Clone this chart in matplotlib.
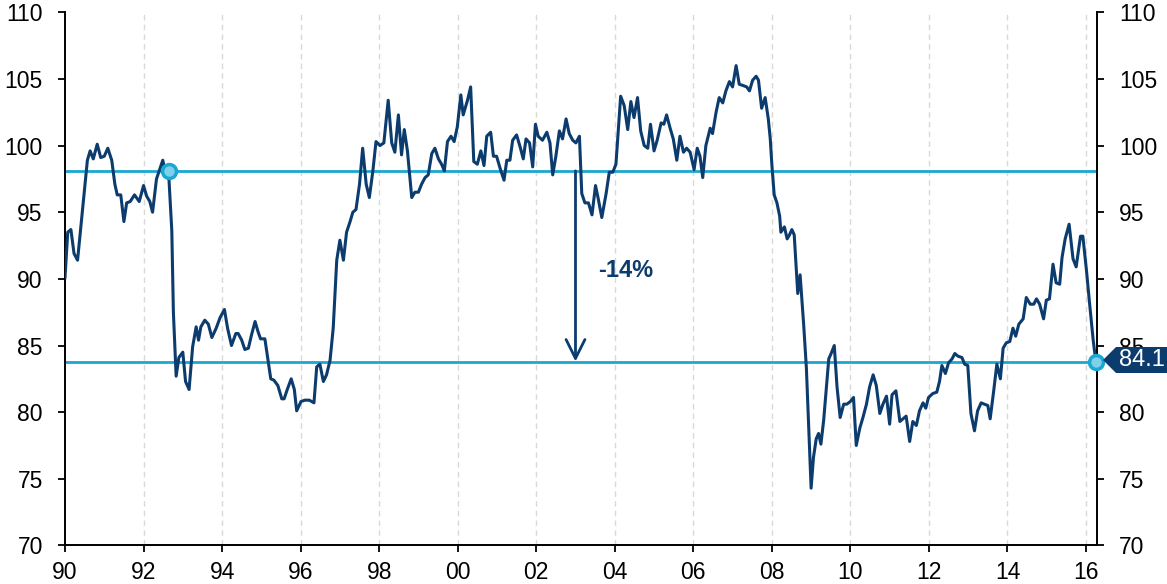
import matplotlib
matplotlib.use("Agg")
import matplotlib.pyplot as plt
from matplotlib.patches import Polygon

plt.rcParams['font.family'] = ['Liberation Sans', 'DejaVu Sans']

# index values (decimal year, level)
years = [1990.0, 1990.07, 1990.15, 1990.23, 1990.32, 1990.42, 1990.57, 1990.64, 1990.72, 1990.82,
         1990.91, 1991.0, 1991.09, 1991.19, 1991.27, 1991.33, 1991.42, 1991.5, 1991.57, 1991.66,
         1991.77, 1991.89, 1992.0, 1992.08, 1992.16, 1992.23, 1992.33, 1992.49, 1992.55, 1992.63,
         1992.72, 1992.76, 1992.83, 1992.9, 1993.0, 1993.07, 1993.16, 1993.25, 1993.34, 1993.4,
         1993.46, 1993.56, 1993.65, 1993.74, 1993.85, 1993.95, 1994.06, 1994.14, 1994.24, 1994.35,
         1994.41, 1994.5, 1994.58, 1994.67, 1994.75, 1994.84, 1994.92, 1994.98, 1995.09, 1995.16,
         1995.24, 1995.32, 1995.42, 1995.52, 1995.58, 1995.66, 1995.76, 1995.84, 1995.9, 1996.01,
         1996.11, 1996.22, 1996.34, 1996.41, 1996.49, 1996.58, 1996.66, 1996.75, 1996.83, 1996.92,
         1997.0, 1997.09, 1997.17, 1997.26, 1997.33, 1997.41, 1997.5, 1997.58, 1997.67, 1997.75,
         1997.84, 1997.92, 1998.02, 1998.12, 1998.23, 1998.32, 1998.4, 1998.49, 1998.57, 1998.64,
         1998.72, 1998.83, 1998.91, 1999.0, 1999.08, 1999.17, 1999.25, 1999.34, 1999.42, 1999.51,
         1999.59, 1999.66, 1999.74, 1999.83, 1999.91, 1999.99, 2000.08, 2000.14, 2000.25, 2000.33,
         2000.41, 2000.5, 2000.59, 2000.67, 2000.74, 2000.84, 2000.91, 2000.99, 2001.09, 2001.18,
         2001.25, 2001.33, 2001.4, 2001.5, 2001.59, 2001.67, 2001.74, 2001.83, 2001.91, 2001.98,
         2002.05, 2002.16, 2002.27, 2002.35, 2002.42, 2002.5, 2002.59, 2002.67, 2002.76, 2002.84,
         2002.93, 2003.01, 2003.1, 2003.16, 2003.24, 2003.33, 2003.42, 2003.51, 2003.58, 2003.67,
         2003.78, 2003.86, 2003.95, 2004.03, 2004.15, 2004.24, 2004.33, 2004.41, 2004.49, 2004.58,
         2004.66, 2004.75, 2004.84, 2004.91, 2005.0, 2005.08, 2005.18, 2005.25, 2005.32, 2005.41,
         2005.49, 2005.58, 2005.66, 2005.75, 2005.83, 2005.92, 2006.02, 2006.1, 2006.17, 2006.24,
         2006.32, 2006.43, 2006.49, 2006.58, 2006.66, 2006.75, 2006.83, 2006.92, 2007.0, 2007.09,
         2007.17, 2007.27, 2007.36, 2007.43, 2007.51, 2007.6, 2007.66, 2007.74, 2007.83, 2007.91,
         2007.96, 2008.0, 2008.06, 2008.13, 2008.2, 2008.23, 2008.32, 2008.39, 2008.45, 2008.51,
         2008.57, 2008.66, 2008.72, 2008.81, 2008.88, 2008.94, 2009.0, 2009.06, 2009.13, 2009.19,
         2009.25, 2009.32, 2009.4, 2009.45, 2009.51, 2009.59, 2009.66, 2009.74, 2009.83, 2009.91,
         2010.0, 2010.08, 2010.15, 2010.24, 2010.32, 2010.41, 2010.49, 2010.58, 2010.66, 2010.75,
         2010.83, 2010.92, 2011.0, 2011.06, 2011.16, 2011.26, 2011.34, 2011.42, 2011.51, 2011.59,
         2011.68, 2011.76, 2011.85, 2011.92, 2011.99, 2012.1, 2012.2, 2012.27, 2012.33, 2012.42,
         2012.5, 2012.59, 2012.66, 2012.74, 2012.84, 2012.91, 2012.99, 2013.07, 2013.16, 2013.24,
         2013.33, 2013.41, 2013.5, 2013.56, 2013.65, 2013.73, 2013.82, 2013.89, 2013.97, 2014.06,
         2014.14, 2014.21, 2014.29, 2014.4, 2014.48, 2014.58, 2014.67, 2014.74, 2014.82, 2014.92,
         2014.99, 2015.07, 2015.16, 2015.24, 2015.33, 2015.39, 2015.47, 2015.57, 2015.67, 2015.75,
         2015.86, 2015.92, 2016.01, 2016.09, 2016.18, 2016.25]
values = [90.1, 93.5, 93.7, 91.9, 91.4, 94.4, 98.9, 99.6, 99.0, 100.1,
          99.1, 99.2, 99.8, 98.9, 97.1, 96.3, 96.3, 94.3, 95.7, 95.8,
          96.3, 95.8, 97.0, 96.2, 95.8, 95.0, 97.5, 98.9, 98.1, 98.4,
          93.6, 87.5, 82.7, 84.1, 84.5, 82.3, 81.7, 84.9, 86.4, 85.4,
          86.4, 86.9, 86.6, 85.6, 86.3, 87.1, 87.7, 86.3, 85.0, 85.9,
          85.9, 85.4, 84.7, 84.8, 85.8, 86.8, 86.0, 85.5, 85.5, 84.1,
          82.5, 82.4, 82.0, 81.0, 81.0, 81.7, 82.5, 81.7, 80.1, 80.8,
          80.9, 80.9, 80.7, 83.4, 83.6, 82.3, 82.8, 83.9, 86.3, 91.4,
          92.9, 91.4, 93.5, 94.3, 95.0, 95.2, 97.1, 99.8, 97.1, 96.1,
          98.1, 100.3, 100.0, 100.2, 103.4, 100.2, 99.5, 102.3, 99.3, 101.2,
          99.6, 96.1, 96.5, 96.5, 97.1, 97.6, 97.8, 99.4, 99.8, 99.0,
          98.6, 98.1, 100.3, 100.7, 100.3, 101.4, 103.8, 102.3, 103.4, 104.4,
          98.8, 98.6, 99.6, 98.5, 100.7, 101.0, 99.2, 99.2, 98.2, 97.4,
          98.9, 98.9, 100.4, 100.8, 99.9, 99.0, 100.5, 100.2, 98.4, 101.6,
          100.7, 100.4, 101.0, 100.2, 97.8, 99.2, 101.1, 100.5, 102.0, 100.9,
          100.4, 100.2, 100.7, 96.4, 95.7, 95.7, 94.8, 97.0, 96.0, 94.6,
          96.4, 98.0, 98.0, 98.6, 103.7, 103.0, 101.2, 103.3, 102.1, 103.6,
          101.1, 100.0, 99.8, 101.6, 99.6, 100.4, 101.7, 101.6, 102.3, 101.3,
          100.5, 98.9, 100.7, 99.5, 99.8, 99.5, 98.2, 99.8, 99.2, 97.6,
          100.0, 101.3, 100.9, 102.5, 103.6, 103.2, 104.1, 104.8, 104.4, 106.0,
          104.6, 104.5, 104.4, 104.1, 104.9, 105.2, 104.9, 102.8, 103.6, 102.0,
          100.5, 98.6, 96.3, 95.7, 94.7, 93.5, 93.9, 93.0, 93.3, 93.7,
          93.3, 88.9, 90.3, 86.6, 83.3, 78.8, 74.3, 76.6, 78.0, 78.4,
          77.6, 79.4, 82.2, 84.0, 84.4, 85.0, 81.9, 79.6, 80.6, 80.6,
          80.8, 81.1, 77.5, 78.8, 79.6, 80.6, 81.9, 82.8, 82.0, 79.9,
          80.6, 81.2, 79.1, 81.3, 81.6, 79.3, 79.5, 79.7, 77.8, 79.3,
          79.0, 80.1, 80.7, 80.3, 81.1, 81.4, 81.5, 82.3, 83.5, 82.9,
          83.7, 84.0, 84.4, 84.2, 84.1, 83.6, 83.5, 79.9, 78.6, 80.1,
          80.7, 80.6, 80.5, 79.5, 81.6, 83.6, 82.5, 84.8, 85.2, 85.3,
          86.3, 85.7, 86.6, 87.0, 88.6, 88.1, 88.1, 88.5, 88.1, 87.0,
          88.4, 88.5, 91.1, 89.7, 89.6, 91.6, 93.0, 94.1, 91.5, 90.9,
          93.2, 93.2, 90.7, 88.2, 85.5, 83.8]

high_level = 98.1
low_level = 83.8
peak_year = 1992.64
last_year = 2016.25
last_label = "84.1"
drop_label = "-14%"
drop_year = 2003.0

tick_years = list(range(1990, 2017, 2))
tick_labels = ["90", "92", "94", "96", "98", "00", "02", "04", "06", "08", "10", "12", "14", "16"]
y_ticks = [70, 75, 80, 85, 90, 95, 100, 105, 110]

navy = "#0c3c6e"
cyan = "#1aa7d2"

fig = plt.figure(figsize=(11.67, 5.84), dpi=100)
ax = fig.add_axes([0.0557, 0.066, 0.8843, 0.913])

for t in tick_years[1:]:
    ax.axvline(t, color="#d9d9d9", lw=1, ls=(0, (4, 3)), zorder=0)

ax.axhline(high_level, color=cyan, lw=2, zorder=2)
ax.axhline(low_level, color=cyan, lw=2, zorder=2)
ax.plot(years, values, color=navy, lw=2.2, zorder=3)

for xm, ym in [(peak_year, high_level), (last_year, low_level)]:
    ax.plot(xm, ym, "o", ms=10, mfc="#7fd0ea", mec=cyan, mew=2.5, zorder=5, clip_on=False)

ax.annotate("", xy=(drop_year, low_level), xytext=(drop_year, high_level),
            arrowprops=dict(arrowstyle="->,head_length=0.4,head_width=0.2", color=navy,
                            lw=2, mutation_scale=34, shrinkA=0, shrinkB=0), zorder=4)
ax.text(drop_year + 0.58, 90.6, drop_label, color=navy, fontsize=17, fontweight="bold",
        ha="left", va="center")

ax.set_xlim(1990, 2016.28)
ax.set_ylim(70, 110)
ax.set_xticks(tick_years)
ax.set_xticklabels(tick_labels)
ax.set_yticks(y_ticks)
ax.tick_params(axis="y", which="both", left=True, right=True, labelleft=True, labelright=True,
               direction="out", length=5, width=1.3, pad=11, labelsize=16.5)
ax.tick_params(axis="x", direction="out", length=5, width=1.3, pad=6, labelsize=16.5)
for side in ["left", "right", "bottom"]:
    ax.spines[side].set_linewidth(1.4)
ax.spines["top"].set_visible(False)

# value tag on the right edge
W, H = 1167.0, 584.0
ymid = 584 - 360
pts = [(1103, ymid), (1116, ymid + 13), (1170, ymid + 13), (1170, ymid - 13), (1116, ymid - 13)]
tag = Polygon([(px / W, py / H) for px, py in pts], closed=True, transform=fig.transFigure,
              facecolor=navy, edgecolor="none", zorder=6, clip_on=False)
fig.patches.append(tag)
fig.text(1142 / W, ymid / H, last_label, color="white", fontsize=17, ha="center", va="center",
         zorder=7)

fig.savefig("out.png", dpi=100)
